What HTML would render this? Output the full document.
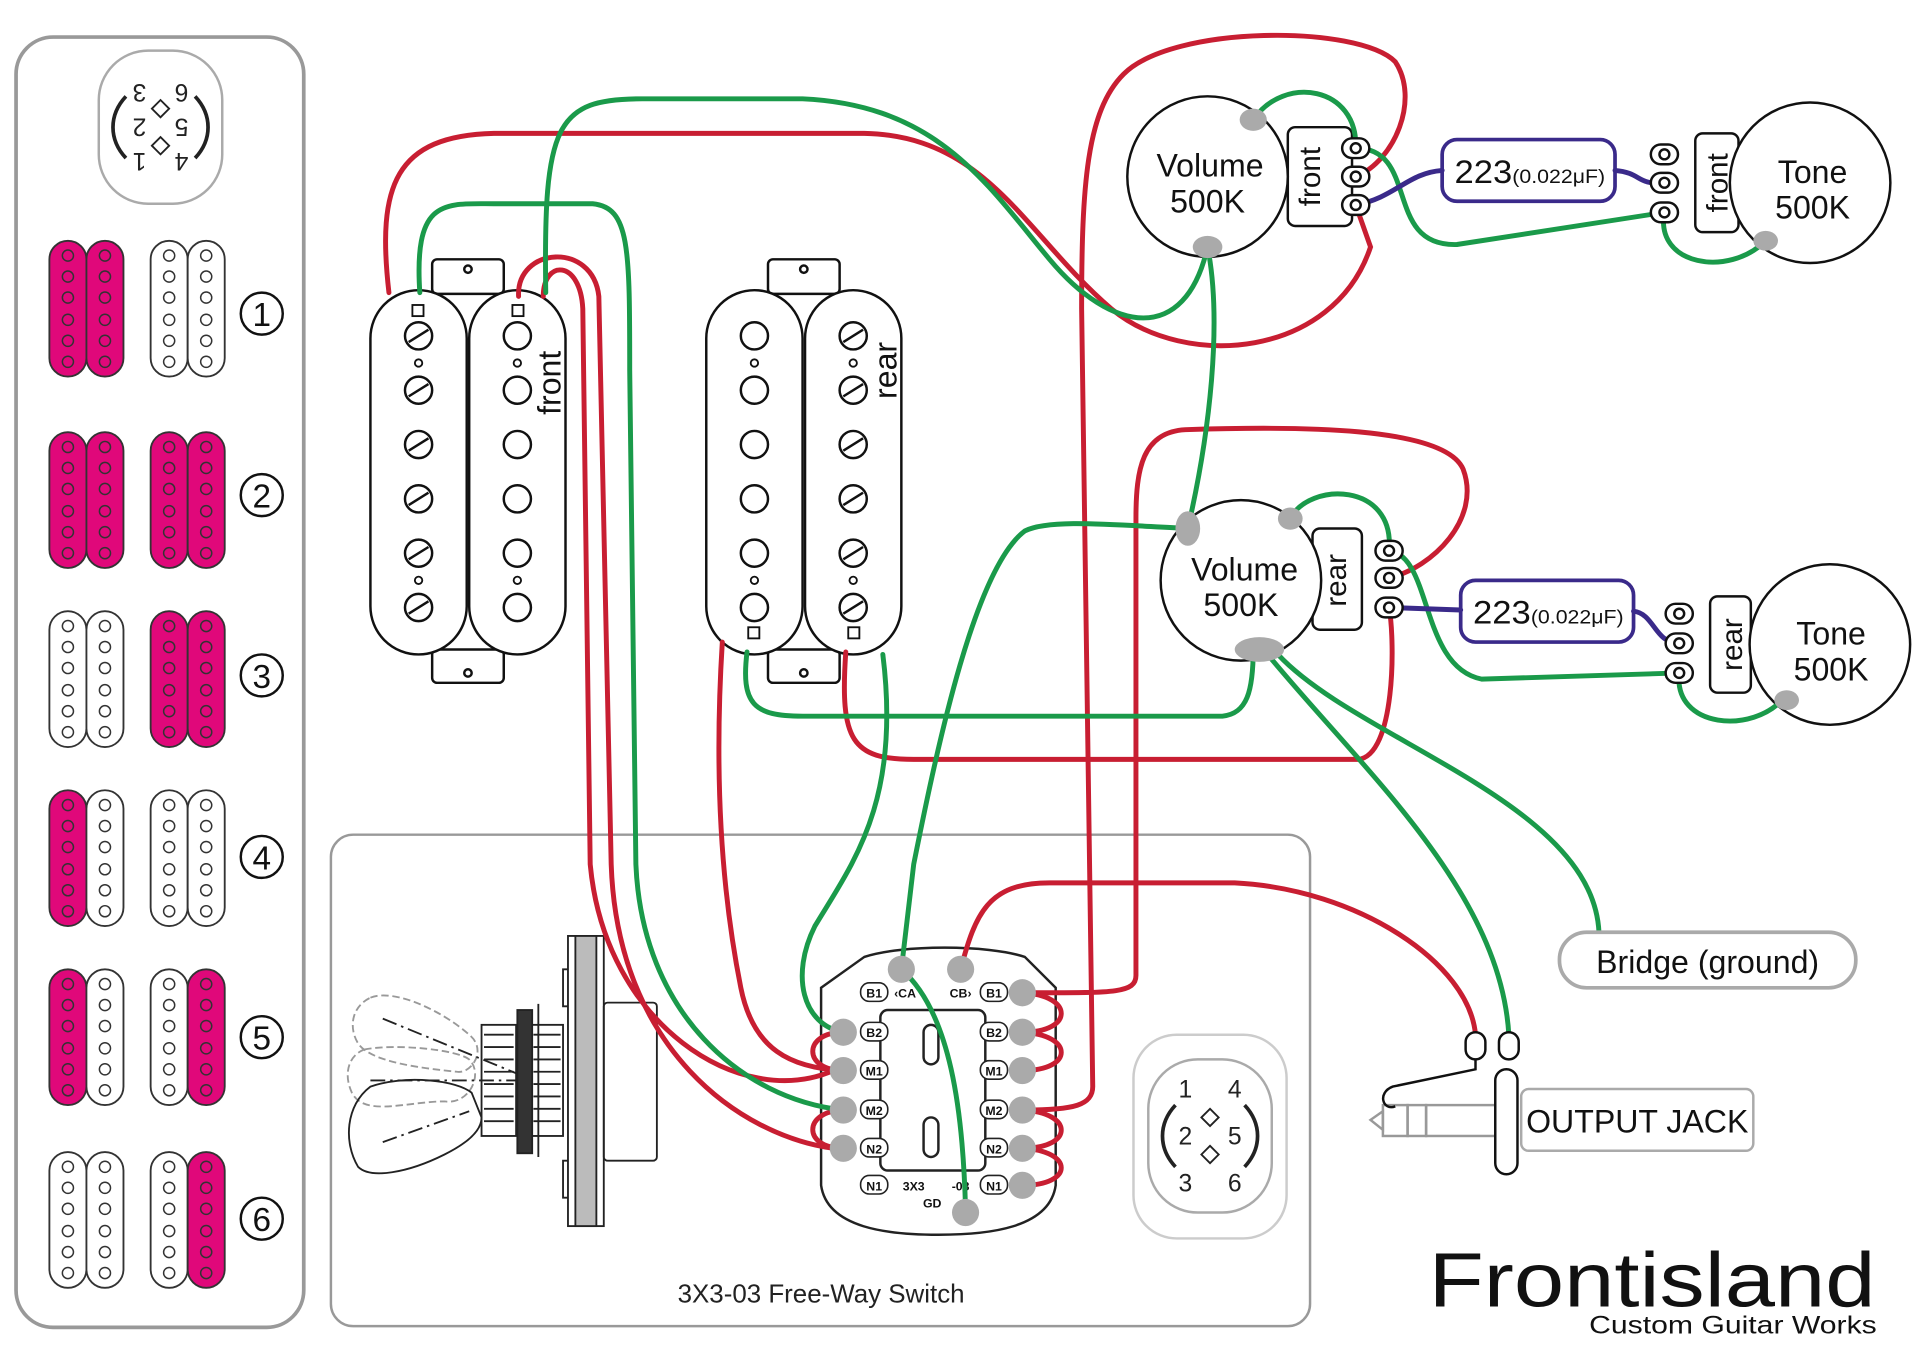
<!DOCTYPE html>
<html><head><meta charset="utf-8"><style>
html,body{margin:0;padding:0;background:#fff}
svg{display:block}
text{font-family:"Liberation Sans",sans-serif}
</style></head><body>
<svg width="1920" height="1357" viewBox="0 0 1555 1099" xmlns="http://www.w3.org/2000/svg" xmlns:xlink="http://www.w3.org/1999/xlink">
<defs>
 <g id="cw">
  <rect x="0" y="0" width="30" height="110" rx="15" fill="#fff" stroke="#333" stroke-width="1.5"/>
  <g fill="none" stroke="#333" stroke-width="1.2"><circle cx="15" cy="12" r="4.5"/><circle cx="15" cy="29" r="4.5"/><circle cx="15" cy="46" r="4.5"/><circle cx="15" cy="64" r="4.5"/><circle cx="15" cy="81" r="4.5"/><circle cx="15" cy="98" r="4.5"/></g>
 </g>
 <g id="cp">
  <rect x="0" y="0" width="30" height="110" rx="15" fill="#e0087a" stroke="#333" stroke-width="1.5"/>
  <g fill="none" stroke="#333" stroke-width="1.2"><circle cx="15" cy="12" r="4.5"/><circle cx="15" cy="29" r="4.5"/><circle cx="15" cy="46" r="4.5"/><circle cx="15" cy="64" r="4.5"/><circle cx="15" cy="81" r="4.5"/><circle cx="15" cy="98" r="4.5"/></g>
 </g>
 <g id="coilS" fill="#fff" stroke="#111" stroke-width="2">
  <rect x="0" y="0" width="78" height="295" rx="39"/>
  <circle cx="39" cy="37" r="11"/><circle cx="39" cy="81" r="11"/><circle cx="39" cy="125" r="11"/><circle cx="39" cy="169" r="11"/><circle cx="39" cy="213" r="11"/><circle cx="39" cy="257" r="11"/>
  <path d="M31,42 L47,32 M31,86 L47,76 M31,130 L47,120 M31,174 L47,164 M31,218 L47,208 M31,262 L47,252"/>
 </g>
 <g id="coilP" fill="#fff" stroke="#111" stroke-width="2">
  <rect x="0" y="0" width="78" height="295" rx="39"/>
  <circle cx="39" cy="37" r="11"/><circle cx="39" cy="81" r="11"/><circle cx="39" cy="125" r="11"/><circle cx="39" cy="169" r="11"/><circle cx="39" cy="213" r="11"/><circle cx="39" cy="257" r="11"/>
 </g>
 <g id="lug" fill="#fff" stroke="#111" stroke-width="2"><rect x="-11" y="-8" width="22" height="16" rx="8"/><rect x="-4" y="-4" width="8" height="8" rx="4"/></g>
</defs>
<rect x="0" y="0" width="1555" height="1099" fill="#fff"/>
<!-- left panel -->
<rect x="13" y="30" width="233" height="1045" rx="30" fill="#fff" stroke="#999" stroke-width="3"/>
<g>
 <rect x="80" y="41" width="100" height="124" rx="40" fill="#fff" stroke="#aaa" stroke-width="2"/>
 <g font-size="20" text-anchor="middle" fill="#222">
  <text transform="rotate(180 113 75)" x="113" y="82">3</text><text transform="rotate(180 147 75)" x="147" y="82">6</text>
  <text transform="rotate(180 113 103)" x="113" y="110">2</text><text transform="rotate(180 147 103)" x="147" y="110">5</text>
  <text transform="rotate(180 113 131)" x="113" y="138">1</text><text transform="rotate(180 147 131)" x="147" y="138">4</text>
 </g>
 <path d="M123,88 l7,-7 l7,7 l-7,7z M123,118 l7,-7 l7,7 l-7,7z" fill="none" stroke="#222" stroke-width="1.5"/>
 <path d="M102,78 C88,93 88,113 102,128 M158,78 C172,93 172,113 158,128" fill="none" stroke="#222" stroke-width="3"/>
</g>
<!-- minis -->
<g>
 <use xlink:href="#cp" x="40" y="195"/><use xlink:href="#cp" x="70" y="195"/><use xlink:href="#cw" x="122" y="195"/><use xlink:href="#cw" x="152" y="195"/>
 <use xlink:href="#cp" x="40" y="350"/><use xlink:href="#cp" x="70" y="350"/><use xlink:href="#cp" x="122" y="350"/><use xlink:href="#cp" x="152" y="350"/>
 <use xlink:href="#cw" x="40" y="495"/><use xlink:href="#cw" x="70" y="495"/><use xlink:href="#cp" x="122" y="495"/><use xlink:href="#cp" x="152" y="495"/>
 <use xlink:href="#cp" x="40" y="640"/><use xlink:href="#cw" x="70" y="640"/><use xlink:href="#cw" x="122" y="640"/><use xlink:href="#cw" x="152" y="640"/>
 <use xlink:href="#cp" x="40" y="785"/><use xlink:href="#cw" x="70" y="785"/><use xlink:href="#cw" x="122" y="785"/><use xlink:href="#cp" x="152" y="785"/>
 <use xlink:href="#cw" x="40" y="933"/><use xlink:href="#cw" x="70" y="933"/><use xlink:href="#cw" x="122" y="933"/><use xlink:href="#cp" x="152" y="933"/>
 <g fill="#fff" stroke="#111" stroke-width="2">
  <circle cx="212" cy="254" r="17"/><circle cx="212" cy="401" r="17"/><circle cx="212" cy="547" r="17"/><circle cx="212" cy="694" r="17"/><circle cx="212" cy="840" r="17"/><circle cx="212" cy="987" r="17"/>
 </g>
 <g font-size="27" text-anchor="middle" fill="#111">
  <text x="212" y="264">1</text><text x="212" y="411">2</text><text x="212" y="557">3</text><text x="212" y="704">4</text><text x="212" y="850">5</text><text x="212" y="997">6</text>
 </g>
</g>
<!-- switch region -->
<rect x="268" y="676" width="793" height="398" rx="18" fill="#fff" stroke="#999" stroke-width="2"/>
<text x="665" y="1055" font-size="21" text-anchor="middle" fill="#222">3X3-03 Free-Way Switch</text>
<!-- lever -->
<g fill="none" stroke="#222" stroke-width="1.5">
 <path d="M300,808 C320,800 360,820 380,838 C395,850 382,870 370,868 C340,865 300,860 290,845 C282,832 285,815 300,808Z" stroke="#999" stroke-dasharray="6,3"/>
 <path d="M295,850 C320,845 370,850 380,858 C392,870 380,895 360,892 C330,892 295,905 285,885 C278,870 282,855 295,850Z" stroke="#999" stroke-dasharray="6,3"/>
 <path d="M300,880 C330,870 370,875 382,885 L390,905 C390,915 380,925 360,935 C330,950 300,955 290,945 C278,925 280,895 300,880Z"/>
 <line x1="310" y1="925" x2="380" y2="900" stroke-dasharray="12,4,2,4"/>
 <line x1="300" y1="875" x2="420" y2="875" stroke-dasharray="12,4,2,4"/>
 <line x1="310" y1="825" x2="420" y2="870" stroke-dasharray="12,4,2,4"/>
 <rect x="390" y="830" width="28" height="90"/>
 <rect x="430" y="830" width="26" height="90"/>
 <path d="M392,838 H416 M392,848 H416 M392,858 H416 M392,868 H416 M392,878 H416 M392,888 H416 M392,898 H416 M392,908 H416 M432,838 H454 M432,848 H454 M432,858 H454 M432,868 H454 M432,878 H454 M432,888 H454 M432,898 H454 M432,908 H454"/>
 <rect x="419" y="818" width="12" height="116" fill="#333"/>
 <line x1="436" y1="813" x2="436" y2="937"/>
 <rect x="460" y="758" width="29" height="235" fill="#fff"/>
 <rect x="466" y="758" width="17" height="235" fill="#bbb"/>
 <rect x="489" y="812" width="43" height="128" rx="3"/>
 <path d="M460,785 h-4 v30 h4 M460,940 h-4 v30 h4"/>
</g>
<!-- right icon -->
<g>
 <rect x="918" y="838" width="124" height="165" rx="35" fill="#fff" stroke="#ccc" stroke-width="2"/>
 <rect x="930" y="858" width="100" height="124" rx="40" fill="#fff" stroke="#aaa" stroke-width="2"/>
 <g font-size="20" text-anchor="middle" fill="#222">
  <text x="960" y="889">1</text><text x="1000" y="889">4</text>
  <text x="960" y="927">2</text><text x="1000" y="927">5</text>
  <text x="960" y="965">3</text><text x="1000" y="965">6</text>
 </g>
 <path d="M973,905 l7,-7 l7,7 l-7,7z M973,935 l7,-7 l7,7 l-7,7z" fill="none" stroke="#222" stroke-width="1.5"/>
 <path d="M952,895 C938,910 938,930 952,945 M1008,895 C1022,910 1022,930 1008,945" fill="none" stroke="#222" stroke-width="3"/>
</g>
<!-- pickups -->
<g fill="#fff" stroke="#111" stroke-width="2">
 <rect x="350" y="210" width="58" height="28" rx="4"/><rect x="350" y="526" width="58" height="27" rx="4"/>
 <rect x="622" y="210" width="58" height="28" rx="4"/><rect x="622" y="526" width="58" height="27" rx="4"/>
 <circle cx="379" cy="218" r="3"/><circle cx="379" cy="545" r="3"/><circle cx="651" cy="218" r="3"/><circle cx="651" cy="545" r="3"/>
</g>
<use xlink:href="#coilS" x="300" y="235"/><use xlink:href="#coilP" x="380" y="235"/>
<use xlink:href="#coilP" x="572" y="235"/><use xlink:href="#coilS" x="652" y="235"/>
<g fill="#fff" stroke="#111" stroke-width="1.5">
 <circle cx="339" cy="294" r="3"/><circle cx="339" cy="470" r="3"/><circle cx="419" cy="294" r="3"/><circle cx="419" cy="470" r="3"/>
 <circle cx="691" cy="294" r="3"/><circle cx="691" cy="470" r="3"/><circle cx="611" cy="294" r="3"/><circle cx="611" cy="470" r="3"/>
 <rect x="334" y="247" width="9" height="9"/><rect x="415" y="247" width="9" height="9"/>
 <rect x="606" y="508" width="9" height="9"/><rect x="687" y="508" width="9" height="9"/>
</g>
<text transform="translate(445,310) rotate(-90)" font-size="26" text-anchor="middle" fill="#111" dy="9">front</text>
<text transform="translate(717,300) rotate(-90)" font-size="26" text-anchor="middle" fill="#111" dy="9">rear</text>
<!-- pots -->
<g stroke="#111" stroke-width="2" fill="#fff">
 <rect x="1043" y="103" width="52" height="80" rx="6"/>
 <circle cx="978" cy="143" r="65"/>
 <rect x="1373" y="108" width="35" height="80" rx="6"/>
 <circle cx="1466" cy="148" r="65"/>
 <rect x="1063" y="428" width="40" height="82" rx="6"/>
 <circle cx="1005" cy="470" r="65"/>
 <rect x="1385" y="483" width="33" height="78" rx="6"/>
 <circle cx="1482" cy="522" r="65"/>
</g>
<g font-size="26" text-anchor="middle" fill="#111">
 <text x="980" y="143">Volume</text><text x="978" y="172">500K</text>
 <text x="1468" y="148">Tone</text><text x="1468" y="177">500K</text>
 <text x="1008" y="470">Volume</text><text x="1005" y="499">500K</text>
 <text x="1483" y="522">Tone</text><text x="1483" y="551">500K</text>
 <text transform="translate(1060,143) rotate(-90)" font-size="24" dy="9">front</text>
 <text transform="translate(1390,148) rotate(-90)" font-size="24" dy="9">front</text>
 <text transform="translate(1081,470) rotate(-90)" font-size="24" dy="9">rear</text>
 <text transform="translate(1402,522) rotate(-90)" font-size="24" dy="9">rear</text>
</g>
<!-- caps -->
<rect x="1168" y="113" width="140" height="50" rx="12" fill="#fff" stroke="#3a2a8a" stroke-width="3"/>
<text x="1178" y="148" font-size="26" fill="#111" textLength="122" lengthAdjust="spacingAndGlyphs">223<tspan font-size="16">(0.022μF)</tspan></text>
<rect x="1183" y="470" width="140" height="50" rx="12" fill="#fff" stroke="#3a2a8a" stroke-width="3"/>
<text x="1193" y="505" font-size="26" fill="#111" textLength="122" lengthAdjust="spacingAndGlyphs">223<tspan font-size="16">(0.022μF)</tspan></text>
<!-- switch body -->
<g fill="#fff" stroke="#222" stroke-width="2">
 <path d="M700,775 C730,765 800,765 830,775 L855,800 V960 C850,995 800,1000 760,1000 C720,1000 670,995 665,960 V800 Z"/>
 <rect x="713" y="818" width="85" height="130" rx="6"/>
 <rect x="748" y="830" width="12" height="32" rx="6"/><rect x="748" y="905" width="12" height="32" rx="6"/>
 <g stroke-width="1.3">
  <rect x="697" y="796" width="22" height="15" rx="7"/><rect x="697" y="828" width="22" height="15" rx="7"/><rect x="697" y="859" width="22" height="15" rx="7"/><rect x="697" y="891" width="22" height="15" rx="7"/><rect x="697" y="922" width="22" height="15" rx="7"/><rect x="697" y="952" width="22" height="15" rx="7"/>
  <rect x="794" y="796" width="22" height="15" rx="7"/><rect x="794" y="828" width="22" height="15" rx="7"/><rect x="794" y="859" width="22" height="15" rx="7"/><rect x="794" y="891" width="22" height="15" rx="7"/><rect x="794" y="922" width="22" height="15" rx="7"/><rect x="794" y="952" width="22" height="15" rx="7"/>
 </g>
</g>
<g font-size="10" text-anchor="middle" fill="#111" font-weight="bold">
 <text x="708" y="808">B1</text><text x="708" y="840">B2</text><text x="708" y="871">M1</text><text x="708" y="903">M2</text><text x="708" y="934">N2</text><text x="708" y="964">N1</text>
 <text x="805" y="808">B1</text><text x="805" y="840">B2</text><text x="805" y="871">M1</text><text x="805" y="903">M2</text><text x="805" y="934">N2</text><text x="805" y="964">N1</text>
 <text x="733" y="808">‹CA</text><text x="778" y="808">CB›</text>
 <text x="740" y="964">3X3</text><text x="778" y="964">-03</text><text x="755" y="978">GD</text>
</g>
<!-- wires -->
<g fill="none" stroke-width="4" stroke-linecap="round">
<g stroke="#c81e32">
 <path d="M315,237 C305,150 320,110 400,108 L700,108 C800,110 830,190 900,250 C960,300 1080,290 1110,200 L1098,166"/>
 <path d="M420,240 C418,200 480,195 485,240 L495,700 C500,850 600,920 675,930"/>
 <path d="M440,240 C440,210 470,210 472,250 L478,700 C490,830 600,900 675,867"/>
 <path d="M1098,143 C1130,130 1150,80 1130,50 C1100,20 950,20 910,60 C880,90 876,150 876,250 L885,880 C885,895 870,899 830,899"/>
 <path d="M1125,468 C1160,460 1200,420 1185,380 C1170,345 1050,345 960,348 C925,350 920,380 920,420 L920,790 C920,805 900,804 828,804"/>
 <path d="M585,520 C580,600 580,700 600,800 C610,850 640,865 683,867"/>
 <path d="M685,528 C680,600 690,615 740,615 L1100,615 C1130,612 1130,520 1125,492"/>
 <path d="M778,785 C790,740 800,715 850,715 L1000,715 C1100,720 1190,780 1195,838"/>
 <path d="M683,836 C650,836 650,867 683,867 M683,899 C650,900 650,930 683,930"/>
 <path d="M828,804 C870,806 870,836 828,836 M828,836 C870,838 870,867 828,867 M828,899 C870,901 870,930 828,930 M828,930 C870,932 870,960 828,960"/>
</g>
<g stroke="#1a9a4a">
 <path d="M340,237 C335,160 360,165 400,165 L480,165 C510,168 510,200 510,300 L515,700 C520,820 600,890 683,899"/>
 <path d="M442,237 C440,100 450,80 520,80 L650,80 C760,85 800,150 850,210 C900,270 960,280 978,200"/>
 <path d="M1015,97 C1040,60 1100,70 1098,120"/>
 <path d="M978,200 C990,260 980,350 962,428"/>
 <path d="M605,528 C600,570 610,580 650,580 L990,580 C1010,578 1015,560 1015,525"/>
 <path d="M715,530 C730,650 690,700 660,750 C640,790 650,830 683,836"/>
 <path d="M962,428 C900,425 850,420 830,430 C790,460 760,600 740,700 L730,785"/>
 <path d="M730,785 C770,820 780,900 782,980"/>
 <path d="M1025,528 C1100,620 1215,720 1222,838"/>
 <path d="M1035,530 C1100,600 1290,650 1295,755"/>
 <path d="M1045,420 C1060,390 1130,390 1125,446"/>
 <path d="M1098,120 C1150,120 1120,200 1180,198 L1348,172"/>
 <path d="M1348,172 C1340,215 1400,225 1430,195"/>
 <path d="M1125,446 C1160,450 1150,540 1200,550 L1360,545"/>
 <path d="M1360,545 C1355,590 1420,595 1445,565"/>
</g>
<g stroke="#3a2a8a">
 <path d="M1098,166 C1130,160 1140,140 1168,138"/>
 <path d="M1308,138 C1330,140 1325,150 1348,148"/>
 <path d="M1125,492 L1183,494"/>
 <path d="M1323,495 C1340,497 1340,521 1360,521"/>
</g>
</g>
<!-- lugs -->
<use xlink:href="#lug" x="1098" y="120"/><use xlink:href="#lug" x="1098" y="143"/><use xlink:href="#lug" x="1098" y="166"/>
<use xlink:href="#lug" x="1348" y="125"/><use xlink:href="#lug" x="1348" y="148"/><use xlink:href="#lug" x="1348" y="172"/>
<use xlink:href="#lug" x="1125" y="446"/><use xlink:href="#lug" x="1125" y="468"/><use xlink:href="#lug" x="1125" y="492"/>
<use xlink:href="#lug" x="1360" y="497"/><use xlink:href="#lug" x="1360" y="521"/><use xlink:href="#lug" x="1360" y="545"/>
<!-- gray dots -->
<g fill="#aaa">
 <ellipse cx="1015" cy="97" rx="11" ry="9"/><ellipse cx="978" cy="200" rx="12" ry="9"/>
 <ellipse cx="1430" cy="195" rx="10" ry="8"/>
 <ellipse cx="962" cy="428" rx="10" ry="14"/><ellipse cx="1045" cy="420" rx="10" ry="9"/>
 <ellipse cx="1020" cy="526" rx="20" ry="10"/><ellipse cx="1447" cy="567" rx="10" ry="8"/>
 <circle cx="683" cy="836" r="11"/><circle cx="683" cy="867" r="11"/><circle cx="683" cy="899" r="11"/><circle cx="683" cy="930" r="11"/>
 <circle cx="828" cy="804" r="11"/><circle cx="828" cy="836" r="11"/><circle cx="828" cy="867" r="11"/><circle cx="828" cy="899" r="11"/><circle cx="828" cy="930" r="11"/><circle cx="828" cy="960" r="11"/>
 <circle cx="730" cy="785" r="11"/><circle cx="778" cy="785" r="11"/><circle cx="782" cy="982" r="11"/>
</g>
<!-- bridge / jack -->
<rect x="1263" y="755" width="240" height="45" rx="22" fill="#fff" stroke="#aaa" stroke-width="3"/>
<text x="1383" y="788" font-size="26" text-anchor="middle" fill="#111">Bridge (ground)</text>
<g fill="none" stroke="#999" stroke-width="2">
 <path d="M1120,900 L1110,907 L1120,915 Z"/><rect x="1120" y="895" width="20" height="25"/><rect x="1140" y="895" width="15" height="25"/>
 <rect x="1155" y="895" width="70" height="25"/>
</g>
<rect x="1232" y="882" width="188" height="50" rx="6" fill="#fff" stroke="#aaa" stroke-width="2"/>
<text x="1326" y="917" font-size="26" text-anchor="middle" fill="#111">OUTPUT JACK</text>
<g fill="#fff" stroke="#111" stroke-width="2">
 <rect x="1187" y="836" width="16" height="22" rx="8"/><rect x="1214" y="836" width="16" height="22" rx="8"/>
 <rect x="1211" y="866" width="18" height="85" rx="9"/>
 <path d="M1195,858 L1195,866 L1128,880 C1115,885 1120,900 1130,896" fill="none"/>
</g>
<!-- logo -->
<text x="1157" y="1058" font-size="62" fill="#111" textLength="362" lengthAdjust="spacingAndGlyphs">Frontisland</text>
<text x="1520" y="1080" font-size="20" text-anchor="end" fill="#111" textLength="233" lengthAdjust="spacingAndGlyphs">Custom Guitar Works</text>
</svg>
</body></html>
